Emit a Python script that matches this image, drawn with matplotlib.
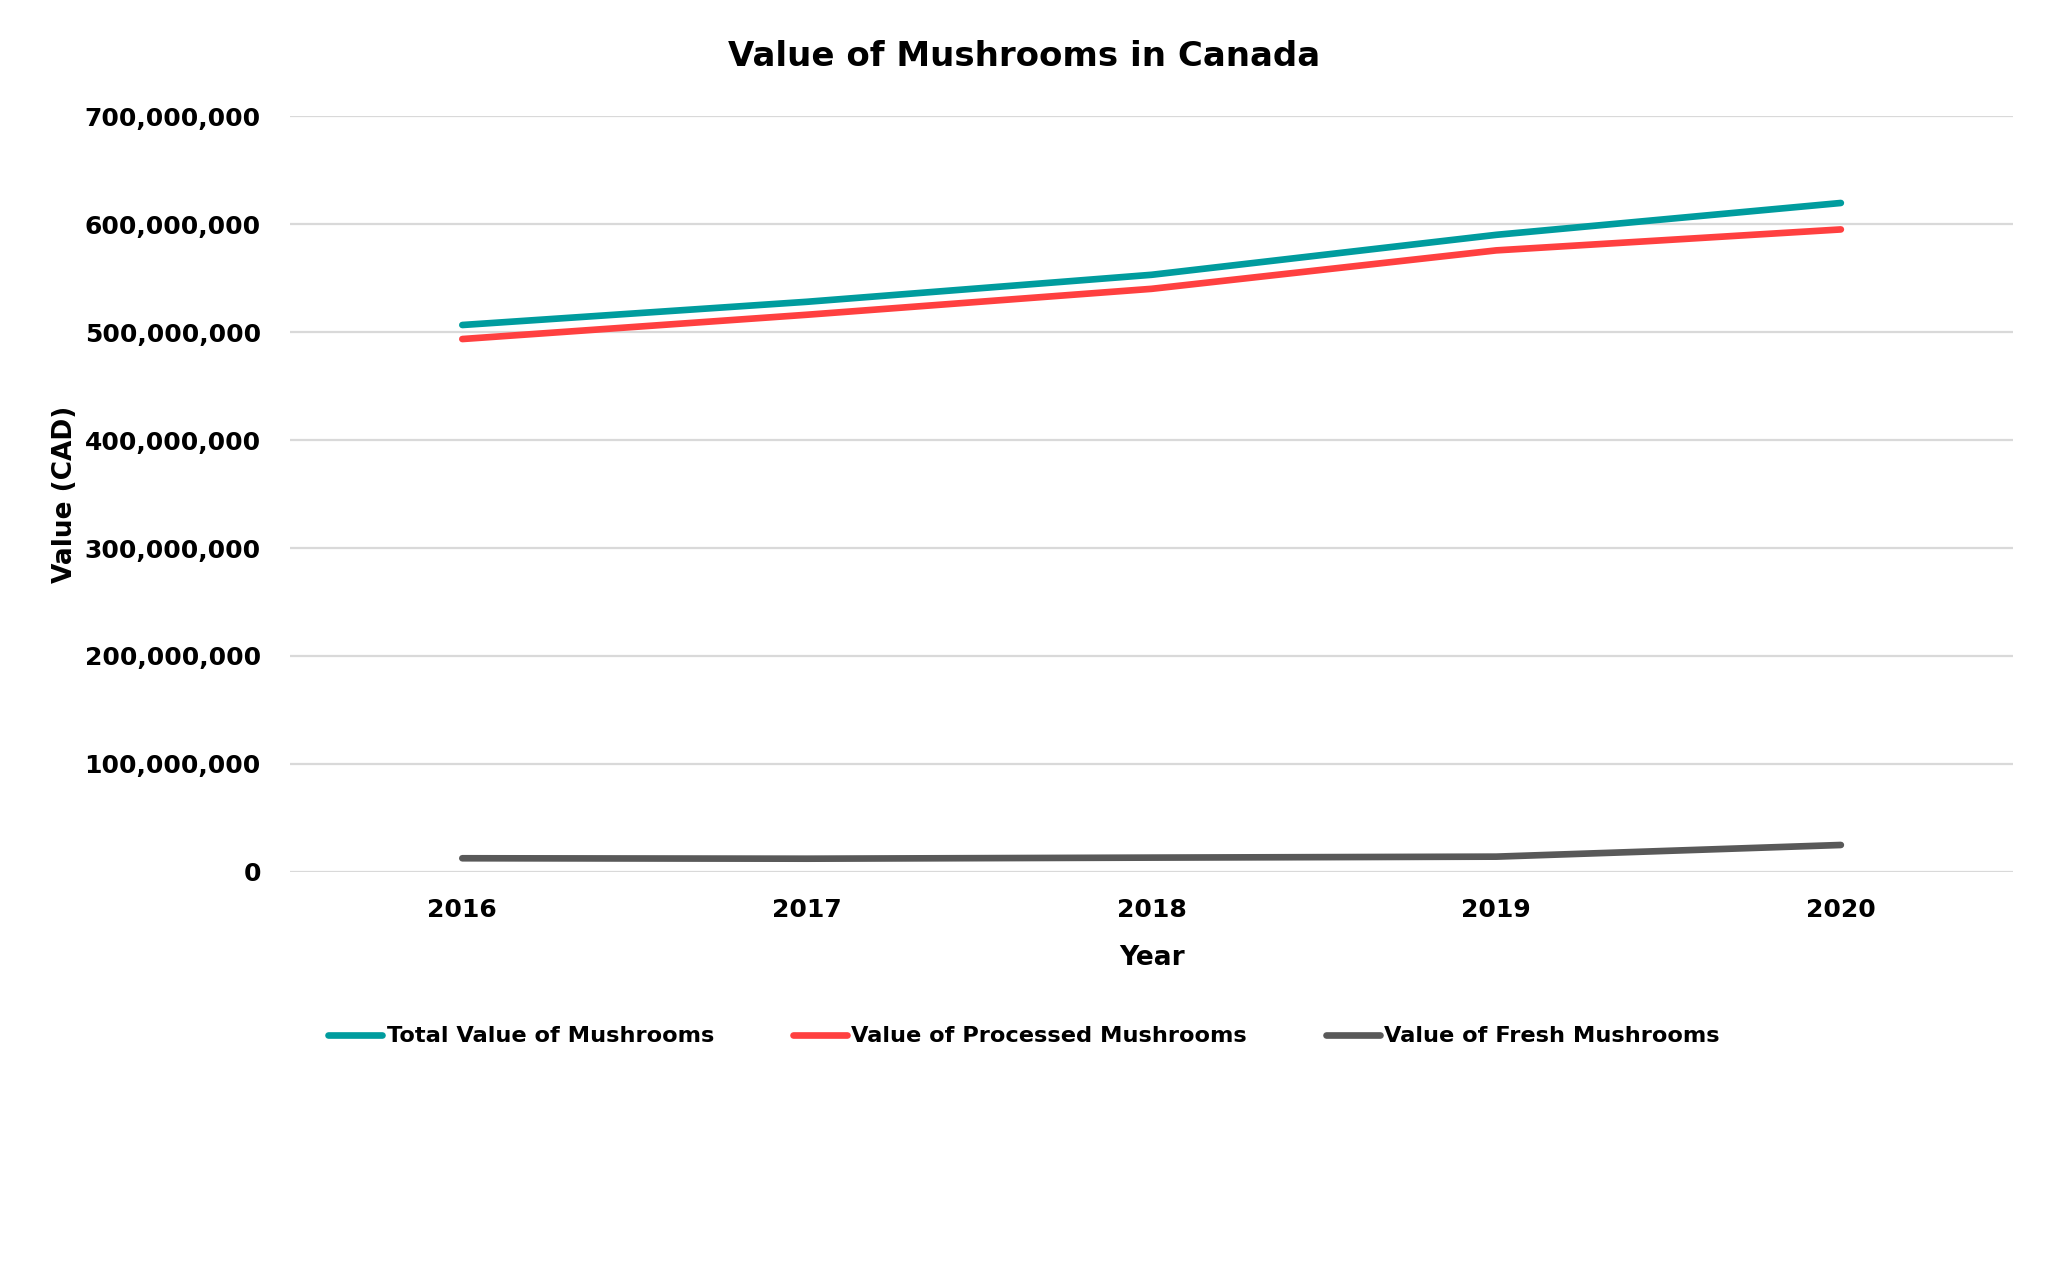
import matplotlib.pyplot as plt
from matplotlib.ticker import FuncFormatter, MultipleLocator

plt.rcParams['font.family'] = ['DejaVu Sans']
plt.rcParams['font.weight'] = 'bold'

# 数据（从图中读取，单位 CAD）
years = ['2016', '2017', '2018', '2019', '2020']
total_value = [506.5e6, 528e6, 553e6, 590e6, 619.5e6]
processed_value = [493.5e6, 516e6, 540e6, 575.6e6, 595e6]
fresh_value = [12.7e6, 12.3e6, 13.3e6, 14.2e6, 25e6]

series_names = ['Total Value of Mushrooms', 'Value of Processed Mushrooms',
                'Value of Fresh Mushrooms']
series_colors = ['#009C9E', '#FF4040', '#595959']

fig = plt.figure(figsize=(20.48, 12.78), dpi=100)
ax = fig.add_axes([0.1416, 0.3177, 0.983 - 0.1416, 0.9092 - 0.3177])

x = range(len(years))
for vals, name, color in zip([total_value, processed_value, fresh_value],
                             series_names, series_colors):
    ax.plot(x, vals, color=color, linewidth=4.8, label=name,
            solid_capstyle='round', zorder=3)

ax.set_xlim(-0.5, len(years) - 0.5)
ax.set_ylim(0, 700e6)
ax.yaxis.set_major_locator(MultipleLocator(100e6))
ax.yaxis.set_major_formatter(FuncFormatter(lambda v, p: f'{int(v):,}'))
ax.set_xticks(list(x))
ax.set_xticklabels(years)

ax.grid(axis='y', color='#D9D9D9', linewidth=1.6, zorder=0)
for s in ax.spines.values():
    s.set_visible(False)
ax.tick_params(axis='x', length=0, labelsize=18, pad=19)
ax.tick_params(axis='y', length=0, labelsize=18, pad=21)

ax.set_xlabel('Year', fontsize=19, fontweight='bold', labelpad=16)
ax.set_ylabel('Value (CAD)', fontsize=19, fontweight='bold', labelpad=5)
fig.text(0.5, 0.956, 'Value of Mushrooms in Canada', ha='center', va='center',
         fontsize=24.5, fontweight='bold')

fig.legend(loc='center', bbox_to_anchor=(0.5, 0.189), ncol=3, frameon=False,
           fontsize=16.2, handlelength=2.4, handletextpad=0.2, columnspacing=3.5)

fig.savefig('out.png', dpi=100, facecolor='white')
